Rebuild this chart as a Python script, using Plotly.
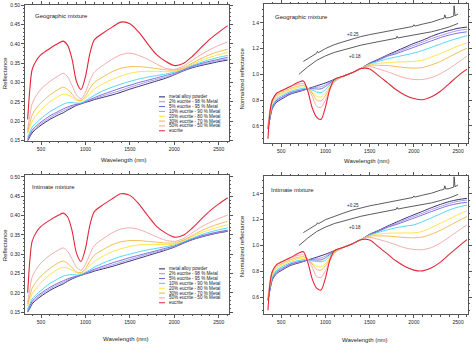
import plotly.graph_objects as go

# ---------------- data ----------------
WL = [350, 375, 400, 450, 500, 600, 700, 750, 800, 850, 900, 950, 1000, 1050, 1100,
      1200, 1300, 1400, 1500, 1600, 1700, 1800, 1900, 2000, 2100, 2200, 2300, 2400, 2500, 2600]

LABELS = ["metal alloy powder", "2% eucrite - 98 % Metal", "5% eucrite - 95 % Metal",
          "10% eucrite - 90 % Metal", "20% eucrite - 80 % Metal", "30% eucrite - 70 % Metal",
          "50% eucrite - 50 % Metal", "eucrite"]

# Geographic mixture - reflectance
geo_metal = [0.150, 0.160, 0.170, 0.181, 0.190, 0.205, 0.217, 0.222, 0.229, 0.235, 0.241, 0.245, 0.249, 0.252, 0.256,
             0.262, 0.268, 0.275, 0.283, 0.290, 0.297, 0.304, 0.311, 0.320, 0.330, 0.338, 0.344, 0.349, 0.354, 0.358]
geo_e02 = [0.152, 0.163, 0.173, 0.185, 0.194, 0.209, 0.222, 0.227, 0.233, 0.238, 0.243, 0.246, 0.250, 0.254, 0.258,
           0.266, 0.273, 0.280, 0.288, 0.295, 0.302, 0.308, 0.314, 0.321, 0.331, 0.340, 0.346, 0.352, 0.357, 0.361]
geo_e05 = [0.155, 0.166, 0.177, 0.189, 0.198, 0.214, 0.226, 0.232, 0.237, 0.241, 0.244, 0.246, 0.251, 0.256, 0.261,
           0.270, 0.278, 0.286, 0.293, 0.300, 0.306, 0.312, 0.318, 0.324, 0.333, 0.342, 0.349, 0.355, 0.360, 0.365]
geo_e10 = [0.160, 0.172, 0.185, 0.197, 0.207, 0.225, 0.238, 0.244, 0.248, 0.248, 0.247, 0.247, 0.253, 0.260, 0.267,
           0.279, 0.288, 0.296, 0.303, 0.309, 0.314, 0.318, 0.322, 0.327, 0.335, 0.344, 0.352, 0.359, 0.365, 0.370]
geo_e20 = [0.168, 0.185, 0.200, 0.217, 0.230, 0.250, 0.265, 0.270, 0.268, 0.262, 0.254, 0.252, 0.260, 0.272, 0.283,
           0.297, 0.308, 0.317, 0.324, 0.328, 0.329, 0.329, 0.328, 0.329, 0.336, 0.347, 0.357, 0.365, 0.372, 0.378]
geo_e30 = [0.172, 0.195, 0.216, 0.235, 0.248, 0.268, 0.283, 0.288, 0.282, 0.270, 0.257, 0.254, 0.265, 0.285, 0.300,
           0.315, 0.328, 0.337, 0.341, 0.341, 0.339, 0.336, 0.333, 0.332, 0.338, 0.350, 0.362, 0.372, 0.380, 0.386]
geo_e50 = [0.178, 0.215, 0.245, 0.268, 0.283, 0.303, 0.318, 0.324, 0.315, 0.292, 0.268, 0.258, 0.275, 0.305, 0.327,
           0.345, 0.360, 0.372, 0.376, 0.370, 0.360, 0.348, 0.337, 0.334, 0.342, 0.357, 0.372, 0.385, 0.396, 0.405]
geo_euc = [0.205, 0.285, 0.333, 0.358, 0.372, 0.388, 0.402, 0.407, 0.396, 0.360, 0.302, 0.282, 0.315, 0.375, 0.410,
           0.428, 0.443, 0.456, 0.452, 0.430, 0.400, 0.372, 0.355, 0.344, 0.349, 0.367, 0.390, 0.412, 0.430, 0.447]

# Intimate mixture - reflectance
int_metal = [0.150, 0.160, 0.171, 0.182, 0.191, 0.206, 0.218, 0.223, 0.230, 0.236, 0.241, 0.245, 0.249, 0.252, 0.256,
             0.262, 0.268, 0.275, 0.282, 0.289, 0.296, 0.303, 0.310, 0.318, 0.328, 0.337, 0.344, 0.350, 0.355, 0.359]
int_e02 = [0.152, 0.163, 0.174, 0.186, 0.195, 0.210, 0.222, 0.227, 0.233, 0.238, 0.242, 0.245, 0.250, 0.254, 0.258,
           0.265, 0.272, 0.279, 0.286, 0.293, 0.300, 0.306, 0.312, 0.319, 0.329, 0.338, 0.345, 0.351, 0.356, 0.360]
int_e05 = [0.154, 0.166, 0.178, 0.190, 0.199, 0.214, 0.226, 0.231, 0.236, 0.240, 0.243, 0.246, 0.251, 0.256, 0.261,
           0.269, 0.277, 0.284, 0.291, 0.297, 0.303, 0.309, 0.315, 0.321, 0.330, 0.339, 0.347, 0.353, 0.358, 0.362]
int_e10 = [0.158, 0.171, 0.184, 0.196, 0.206, 0.224, 0.237, 0.243, 0.246, 0.247, 0.246, 0.247, 0.253, 0.259, 0.266,
           0.277, 0.286, 0.294, 0.300, 0.306, 0.311, 0.315, 0.319, 0.324, 0.332, 0.341, 0.350, 0.357, 0.363, 0.368]
int_e20 = [0.165, 0.182, 0.197, 0.213, 0.226, 0.247, 0.262, 0.266, 0.264, 0.258, 0.252, 0.250, 0.258, 0.270, 0.281,
           0.295, 0.306, 0.314, 0.320, 0.324, 0.325, 0.325, 0.325, 0.326, 0.334, 0.345, 0.355, 0.363, 0.370, 0.376]
int_e30 = [0.170, 0.192, 0.212, 0.230, 0.243, 0.263, 0.278, 0.282, 0.276, 0.265, 0.254, 0.252, 0.262, 0.282, 0.297,
           0.312, 0.324, 0.332, 0.335, 0.335, 0.333, 0.331, 0.329, 0.329, 0.336, 0.348, 0.360, 0.370, 0.378, 0.385]
int_e50 = [0.175, 0.210, 0.240, 0.262, 0.277, 0.297, 0.311, 0.316, 0.307, 0.287, 0.266, 0.258, 0.273, 0.300, 0.322,
           0.340, 0.355, 0.365, 0.368, 0.364, 0.355, 0.345, 0.336, 0.333, 0.340, 0.355, 0.370, 0.382, 0.392, 0.401]
int_euc = [0.200, 0.285, 0.333, 0.358, 0.372, 0.388, 0.401, 0.406, 0.396, 0.360, 0.302, 0.281, 0.314, 0.375, 0.410,
           0.428, 0.443, 0.456, 0.452, 0.430, 0.400, 0.372, 0.355, 0.344, 0.349, 0.367, 0.390, 0.412, 0.430, 0.446]

# Geographic mixture - normalized reflectance
geo_n_metal = [0.575, 0.665, 0.735, 0.785, 0.806, 0.845, 0.866, 0.876, 0.888, 0.899, 0.910, 0.921, 0.933, 0.946, 0.960,
               0.985, 1.012, 1.045, 1.087, 1.117, 1.150, 1.180, 1.210, 1.240, 1.265, 1.295, 1.320, 1.340, 1.357, 1.367]
geo_n_e02 = [0.577, 0.668, 0.740, 0.792, 0.812, 0.850, 0.870, 0.878, 0.887, 0.893, 0.899, 0.903, 0.918, 0.940, 0.958,
             0.985, 1.012, 1.045, 1.085, 1.113, 1.145, 1.170, 1.198, 1.225, 1.250, 1.278, 1.300, 1.322, 1.340, 1.350]
geo_n_e05 = [0.580, 0.673, 0.748, 0.800, 0.820, 0.856, 0.875, 0.882, 0.887, 0.888, 0.886, 0.887, 0.905, 0.932, 0.955,
             0.985, 1.012, 1.045, 1.083, 1.110, 1.140, 1.160, 1.185, 1.210, 1.235, 1.260, 1.285, 1.305, 1.320, 1.330]
geo_n_e10 = [0.585, 0.685, 0.760, 0.812, 0.832, 0.866, 0.885, 0.890, 0.888, 0.878, 0.862, 0.858, 0.880, 0.920, 0.952,
             0.985, 1.012, 1.045, 1.080, 1.100, 1.120, 1.135, 1.150, 1.165, 1.185, 1.210, 1.235, 1.260, 1.280, 1.300]
geo_n_e20 = [0.590, 0.700, 0.775, 0.825, 0.845, 0.878, 0.898, 0.902, 0.890, 0.865, 0.830, 0.825, 0.855, 0.905, 0.948,
             0.985, 1.012, 1.045, 1.075, 1.085, 1.090, 1.095, 1.097, 1.100, 1.110, 1.135, 1.160, 1.190, 1.220, 1.243]
geo_n_e30 = [0.595, 0.715, 0.790, 0.838, 0.857, 0.890, 0.910, 0.914, 0.892, 0.855, 0.800, 0.794, 0.835, 0.895, 0.945,
             0.985, 1.012, 1.045, 1.070, 1.070, 1.068, 1.060, 1.052, 1.048, 1.053, 1.073, 1.100, 1.135, 1.170, 1.203]
geo_n_e50 = [0.600, 0.735, 0.805, 0.850, 0.870, 0.903, 0.925, 0.928, 0.893, 0.830, 0.752, 0.743, 0.800, 0.882, 0.940,
             0.985, 1.012, 1.045, 1.060, 1.042, 1.020, 0.995, 0.972, 0.960, 0.960, 0.975, 1.005, 1.045, 1.093, 1.140]
geo_n_euc = [0.500, 0.720, 0.800, 0.855, 0.872, 0.905, 0.940, 0.948, 0.870, 0.740, 0.668, 0.650, 0.745, 0.885, 0.960,
             0.985, 1.012, 1.045, 1.042, 0.990, 0.935, 0.880, 0.838, 0.812, 0.803, 0.825, 0.868, 0.928, 0.988, 1.040]

# Intimate mixture - normalized reflectance
int_n_metal = [0.575, 0.665, 0.735, 0.785, 0.806, 0.845, 0.866, 0.876, 0.888, 0.899, 0.910, 0.921, 0.933, 0.946, 0.960,
               0.985, 1.012, 1.045, 1.087, 1.117, 1.150, 1.180, 1.210, 1.238, 1.265, 1.293, 1.318, 1.340, 1.355, 1.365]
int_n_e02 = [0.577, 0.668, 0.740, 0.792, 0.812, 0.850, 0.870, 0.878, 0.887, 0.894, 0.900, 0.904, 0.918, 0.940, 0.958,
             0.985, 1.012, 1.045, 1.085, 1.113, 1.145, 1.170, 1.198, 1.225, 1.250, 1.278, 1.302, 1.325, 1.342, 1.352]
int_n_e05 = [0.580, 0.673, 0.748, 0.800, 0.820, 0.856, 0.875, 0.882, 0.887, 0.889, 0.888, 0.889, 0.905, 0.932, 0.955,
             0.985, 1.012, 1.045, 1.083, 1.110, 1.140, 1.162, 1.187, 1.212, 1.237, 1.263, 1.288, 1.310, 1.325, 1.335]
int_n_e10 = [0.585, 0.685, 0.760, 0.812, 0.832, 0.866, 0.885, 0.890, 0.888, 0.880, 0.877, 0.875, 0.885, 0.922, 0.952,
             0.985, 1.012, 1.045, 1.080, 1.102, 1.122, 1.138, 1.150, 1.160, 1.185, 1.215, 1.245, 1.275, 1.297, 1.313]
int_n_e20 = [0.590, 0.700, 0.775, 0.825, 0.845, 0.878, 0.898, 0.902, 0.890, 0.866, 0.840, 0.835, 0.860, 0.907, 0.948,
             0.985, 1.012, 1.045, 1.076, 1.088, 1.095, 1.097, 1.097, 1.098, 1.110, 1.140, 1.172, 1.205, 1.240, 1.268]
int_n_e30 = [0.595, 0.715, 0.790, 0.838, 0.857, 0.890, 0.910, 0.914, 0.892, 0.857, 0.815, 0.810, 0.842, 0.897, 0.945,
             0.985, 1.012, 1.045, 1.072, 1.075, 1.073, 1.068, 1.062, 1.060, 1.066, 1.088, 1.118, 1.153, 1.190, 1.224]
int_n_e50 = [0.600, 0.735, 0.805, 0.850, 0.870, 0.903, 0.925, 0.928, 0.893, 0.833, 0.760, 0.753, 0.805, 0.884, 0.940,
             0.985, 1.012, 1.045, 1.062, 1.048, 1.028, 1.005, 0.982, 0.970, 0.968, 0.985, 1.020, 1.065, 1.113, 1.160]
int_n_euc = [0.500, 0.720, 0.800, 0.855, 0.872, 0.905, 0.942, 0.952, 0.872, 0.742, 0.670, 0.656, 0.748, 0.887, 0.960,
             0.985, 1.012, 1.045, 1.042, 0.990, 0.935, 0.880, 0.838, 0.810, 0.804, 0.828, 0.872, 0.932, 0.990, 1.046]

# offset metal spectra (+0.25, +0.18)
OFF25_WL = [750, 800, 850, 900, 910, 920, 1000, 1100, 1200, 1300, 1400, 1500, 1600, 1700, 1800, 1900,
            1990, 2000, 2010, 2100, 2200, 2300, 2340, 2350, 2360, 2400, 2450, 2455, 2465, 2500]
geo_off25 = [1.100, 1.122, 1.145, 1.163, 1.178, 1.168, 1.200, 1.230, 1.252, 1.275, 1.293, 1.308, 1.322, 1.335, 1.347,
             1.360, 1.372, 1.385, 1.374, 1.390, 1.405, 1.428, 1.435, 1.462, 1.437, 1.440, 1.452, 1.532, 1.455, 1.468]
int_off25 = [1.100, 1.122, 1.145, 1.163, 1.176, 1.168, 1.200, 1.228, 1.250, 1.273, 1.292, 1.307, 1.320, 1.333, 1.346,
             1.360, 1.372, 1.384, 1.374, 1.390, 1.405, 1.428, 1.435, 1.462, 1.437, 1.440, 1.452, 1.532, 1.455, 1.468]
OFF18_WL = [700, 750, 800, 900, 1000, 1100, 1200, 1300, 1400, 1500, 1600, 1700, 1800, 1810, 1820,
            1900, 2000, 2100, 2200, 2300, 2400, 2500]
geo_off18 = [1.000, 1.030, 1.058, 1.108, 1.143, 1.170, 1.190, 1.210, 1.226, 1.240, 1.254, 1.267, 1.280, 1.295, 1.282,
             1.293, 1.305, 1.316, 1.330, 1.348, 1.368, 1.395]
int_off18 = [1.000, 1.030, 1.058, 1.108, 1.143, 1.170, 1.190, 1.210, 1.226, 1.240, 1.254, 1.267, 1.280, 1.295, 1.282,
             1.293, 1.305, 1.316, 1.330, 1.348, 1.368, 1.395]

COLORS = ["#1d1b6b", "#a58fe0", "#6d5fd8", "#3fd3ef", "#ffe233", "#f2b445", "#f2a3a3", "#e3263a"]

# ---------------- figure ----------------
W, H = 474, 345
fig = go.Figure()

panels = [
    ("x", "y", [geo_metal, geo_e02, geo_e05, geo_e10, geo_e20, geo_e30, geo_e50, geo_euc]),
    ("x2", "y2", [geo_n_metal, geo_n_e02, geo_n_e05, geo_n_e10, geo_n_e20, geo_n_e30, geo_n_e50, geo_n_euc]),
    ("x3", "y3", [int_metal, int_e02, int_e05, int_e10, int_e20, int_e30, int_e50, int_euc]),
    ("x4", "y4", [int_n_metal, int_n_e02, int_n_e05, int_n_e10, int_n_e20, int_n_e30, int_n_e50, int_n_euc]),
]
for xa, ya, series in panels:
    for lab, col, vals in zip(LABELS, COLORS, series):
        fig.add_trace(go.Scatter(x=WL, y=vals, mode="lines", name=lab, showlegend=False,
                                 line=dict(color=col, width=1.1 if lab == "eucrite" else 0.9,
                                           shape="spline", smoothing=0.8),
                                 xaxis=xa, yaxis=ya, hoverinfo="skip"))

for xa, ya, wl, vals in [("x2", "y2", OFF25_WL, geo_off25), ("x2", "y2", OFF18_WL, geo_off18),
                         ("x4", "y4", OFF25_WL, int_off25), ("x4", "y4", OFF18_WL, int_off18)]:
    fig.add_trace(go.Scatter(x=wl, y=vals, mode="lines", showlegend=False,
                             line=dict(color="#333333", width=0.8), xaxis=xa, yaxis=ya))

FONT = "Liberation Sans, Arial, sans-serif"
TXT = "#222222"


def px_x(px):
    return px / W


def px_y(py):
    return 1 - py / H


def xax(dom, rng):
    return dict(domain=dom, range=rng, showline=True, linecolor="#555", linewidth=0.8, mirror="allticks",
                ticks="outside", ticklen=3, tickwidth=0.7, tickcolor="#555",
                tickvals=[500, 1000, 1500, 2000, 2500],
                tickfont=dict(size=5, family=FONT, color=TXT), showgrid=False, zeroline=False,
                minor=dict(ticks="outside", ticklen=1.5, tickwidth=0.6, tickcolor="#555", dtick=100, tick0=0))


def yax(dom, rng, dtick, tick0, fmt, mdt, anchor):
    return dict(domain=dom, range=rng, showline=True, linecolor="#555", linewidth=0.8, mirror="allticks",
                ticks="outside", ticklen=3, tickwidth=0.7, tickcolor="#555", dtick=dtick, tick0=tick0,
                tickformat=fmt, tickfont=dict(size=5, family=FONT, color=TXT), showgrid=False,
                zeroline=False, anchor=anchor,
                minor=dict(ticks="outside", ticklen=1.5, tickwidth=0.6, tickcolor="#555", dtick=mdt, tick0=0))


LX = [px_x(25), px_x(229)]
RX = [px_x(264), px_x(468)]
fig.update_layout(
    width=W, height=H, margin=dict(l=0, r=0, t=0, b=0),
    paper_bgcolor="white", plot_bgcolor="white", showlegend=False,
    xaxis=dict(**xax(LX, [320, 2615]), anchor="y"),
    yaxis=yax([px_y(140.7), px_y(2.7)], [0.149, 0.501], 0.05, 0.15, ".2f", 0.01, "x"),
    xaxis2=dict(**xax(RX, [305, 2612]), anchor="y2"),
    yaxis2=yax([px_y(143), px_y(2)], [0.464, 1.546], 0.2, 0.6, ".1f", 0.05, "x2"),
    xaxis3=dict(**xax(LX, [320, 2615]), anchor="y3"),
    yaxis3=yax([px_y(315.3), px_y(175.3)], [0.146, 0.504], 0.05, 0.15, ".2f", 0.01, "x3"),
    xaxis4=dict(**xax(RX, [305, 2612]), anchor="y4"),
    yaxis4=yax([px_y(316), px_y(176)], [0.468, 1.538], 0.2, 0.6, ".1f", 0.05, "x4"),
)

ann = []


def text(s, x, y, size=6, xanchor="left", yanchor="middle", angle=0):
    ann.append(dict(text=s, x=px_x(x), y=px_y(y), xref="paper", yref="paper", showarrow=False,
                    xanchor=xanchor, yanchor=yanchor, textangle=angle,
                    font=dict(size=size, family=FONT, color=TXT)))


# panel titles
text("Geographic mixture", 33, 14, 6)
text("Geographic mixture", 273, 15, 6)
text("Intimate mixture", 30, 187, 6)
text("Intimate mixture", 269, 190, 6)
# axis titles
text("Wavelength (nm)", 123, 160, 6, "center")
text("Wavelength (nm)", 366, 161, 6, "center")
text("Wavelength (nm)", 126, 341, 6, "center")
text("Wavelength (nm)", 364, 341.5, 6, "center")
text("Reflectance", 5, 72, 6, "center", "middle", -90)
text("Reflectance", 5, 246, 6, "center", "middle", -90)
text("Normalized reflectance", 242.5, 78, 6, "center", "middle", -90)
text("Normalized reflectance", 242, 247, 6, "center", "middle", -90)
# offset labels
text("+0.25", 345, 33, 4.5)
text("+0.18", 347, 55, 4.5)
text("+0.25", 345, 206, 4.5)
text("+0.18", 347, 228.5, 4.5)

# manual compact legends
shapes = []
for y0 in (96.0, 270.0):
    for i, (lab, col) in enumerate(zip(LABELS, COLORS)):
        yy = y0 + i * 4.9
        shapes.append(dict(type="line", xref="paper", yref="paper", x0=px_x(159), x1=px_x(165),
                           y0=px_y(yy), y1=px_y(yy), line=dict(color=col, width=1)))
        text(lab, 166.5, yy, 4.6)

fig.update_layout(annotations=ann, shapes=shapes)
fig.write_html("out.html")
